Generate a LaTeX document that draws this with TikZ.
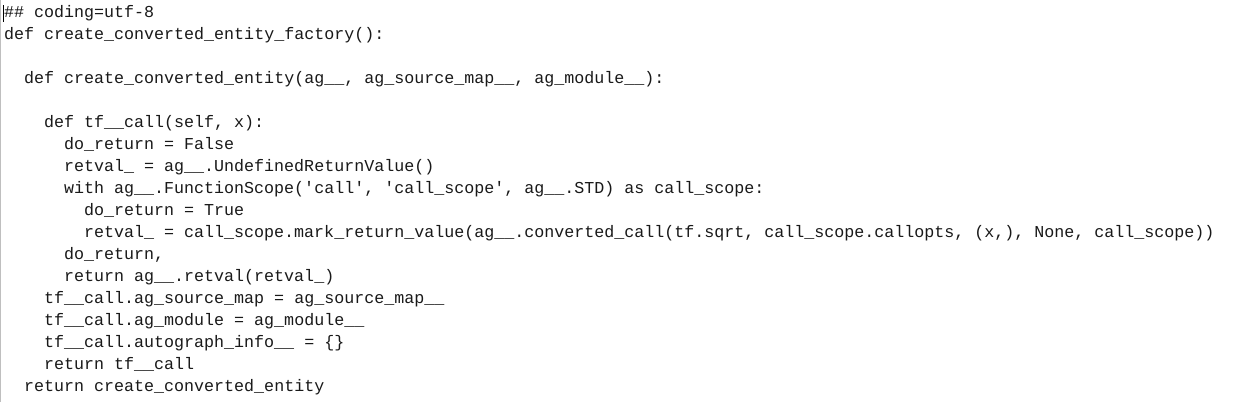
\documentclass[tikz,border=0pt]{standalone}
\usepackage{fontspec}
\setmonofont{Liberation Mono}
\begin{document}
\begin{tikzpicture}[x=1pt,y=-1pt,
  codeline/.style={anchor=base west,inner sep=0pt,font=\ttfamily\fontsize{16.67pt}{22pt}\selectfont,text=black!90}]
\useasboundingbox[fill=white] (0,0) rectangle (1249,402);
\draw[black!25,line width=1pt] (0.5,0) -- (0.5,402);
\coordinate (ca) at (3,5); \coordinate (cb) at (3,22);
\draw[black,line width=1pt] (ca) -- (cb);
\def\L#1#2#3{\node[codeline] (l#1) at ({4+10*#2},{17+22*(#1-1)}) {\detokenize{#3}};}
\L{1}{0}{# coding=utf-8}
\L{2}{0}{def create_converted_entity_factory():}
\L{4}{2}{def create_converted_entity(ag__, ag_source_map__, ag_module__):}
\L{6}{4}{def tf__call(self, x):}
\L{7}{6}{do_return = False}
\L{8}{6}{retval_ = ag__.UndefinedReturnValue()}
\L{9}{6}{with ag__.FunctionScope('call', 'call_scope', ag__.STD) as call_scope:}
\L{10}{8}{do_return = True}
\L{11}{8}{retval_ = call_scope.mark_return_value(ag__.converted_call(tf.sqrt, call_scope.callopts, (x,), None, call_scope))}
\L{12}{6}{do_return,}
\L{13}{6}{return ag__.retval(retval_)}
\L{14}{4}{tf__call.ag_source_map = ag_source_map__}
\L{15}{4}{tf__call.ag_module = ag_module__}
\L{16}{4}{tf__call.autograph_info__ = {}}
\L{17}{4}{return tf__call}
\L{18}{2}{return create_converted_entity}
\end{tikzpicture}
\end{document}
